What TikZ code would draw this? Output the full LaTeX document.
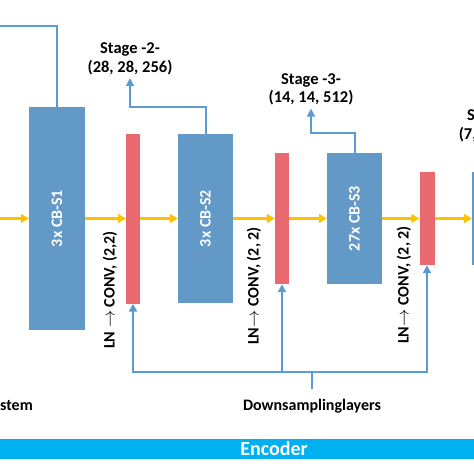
\documentclass[tikz,border=0pt]{standalone}
\usepackage{fontspec}
\setmainfont{Carlito}
\usetikzlibrary{arrows.meta, positioning, calc}

\definecolor{blockblue}{RGB}{98,153,199}
\definecolor{downred}{RGB}{233,106,110}
\definecolor{flowgold}{RGB}{255,192,0}
\definecolor{linkblue}{RGB}{91,155,213}
\definecolor{encoderbar}{RGB}{0,176,240}

\begin{document}
\begin{tikzpicture}[
    x=1pt, y=-1pt,
    block/.style={fill=blockblue, minimum width=55pt, inner sep=0pt, text=white, font=\bfseries\fontsize{16}{18}\selectfont},
    downbar/.style={fill=downred, minimum width=14pt, inner sep=0pt},
    flow/.style={draw=flowgold, line width=2.5pt, -{Triangle[length=8pt, width=9pt]}},
    link/.style={draw=linkblue, line width=2pt, -{Triangle[length=8pt, width=8pt]}},
    stagelbl/.style={align=center, font=\bfseries\fontsize{16.5}{18.5}\selectfont, inner sep=3pt},
    oplbl/.style={font=\bfseries\fontsize{16}{18}\selectfont, inner sep=0pt}
]
    \useasboundingbox (0,0) rectangle (474,474);
    \clip (0,0) rectangle (474,474);

    % Stage blocks and downsampling bars
    \node[block, minimum width=56pt, minimum height=223pt] (box1) at (57,218.5) {\rotatebox{90}{3x CB-S1}};
    \node[downbar, minimum height=170pt] (red1) at (133,218.5) {};
    \node[block, minimum height=169pt] (box2) at (205.5,218.5) {\rotatebox{90}{3x CB-S2}};
    \node[downbar, minimum height=131pt] (red2) at (282,218.5) {};
    \node[block, minimum height=131pt] (box3) at (354.5,218.5) {\rotatebox{90}{27x CB-S3}};
    \node[downbar, minimum width=15pt, minimum height=93pt] (red3) at (427,218.5) {};
    \node[block, minimum height=93pt] (box4) at (499.5,218.5) {};

    % Main flow
    \coordinate (input) at (-10,218.5);
    \draw[flow] (input) -- (box1);
    \draw[flow] (box1) -- (red1);
    \draw[flow] (red1) -- (box2);
    \draw[flow] (box2) -- (red2);
    \draw[flow] (red2) -- (box3);
    \draw[flow] (box3) -- (red3);
    \draw[flow] (red3) -- (box4);

    % Downsampling labels
    \node[oplbl, rotate=90] (op1) at (110,290) {LN $\rightarrow$ CONV, (2,2)};
    \node[oplbl, rotate=90] (op2) at (254,286) {LN$\rightarrow$ CONV, (2, 2)};
    \node[oplbl, rotate=90] (op3) at (404,285) {LN$\rightarrow$ CONV, (2, 2)};

    % Stage outputs
    \coordinate (s1out) at (-20,26);
    \node[stagelbl] (stage2) at (130,59) {Stage -2-\\(28, 28, 256)};
    \node[stagelbl] (stage3) at (311,89.5) {Stage -3-\\(14, 14, 512)};
    \node[stagelbl] (stage4) at (497,126) {Stage -4-\\(7, 7, 1024)};
    \draw[link] (box1.north) |- (s1out);
    \draw[link] (box2.north) -- ++(0,-27) -| (stage2.south);
    \draw[link] (box3.north) -- ++(0,-20) -| (stage3.south);
    \draw[link] (box4.north) -- ++(0,-20) -| (stage4.south);

    % Downsampling connectors
    \coordinate (dsjoin) at (312,372);
    \draw[link] (dsjoin) -| (red1.south);
    \draw[link] (dsjoin) -| (red2.south);
    \draw[link] (dsjoin) -| (red3.south);
    \draw[link, -] (dsjoin) -- ++(0,17);
    \node[oplbl] (dslbl) at (312,406) {Downsamplinglayers};
    \node[oplbl, anchor=east] (stem) at (33,406) {stem};

    % Encoder bar
    \node[fill=encoderbar, minimum width=500pt, minimum height=20pt, inner sep=0pt] (encbar) at (237,449) {};
    \node[text=white, font=\bfseries\fontsize{20}{20}\selectfont] (enc) at (274,449) {Encoder};
\end{tikzpicture}
\end{document}
